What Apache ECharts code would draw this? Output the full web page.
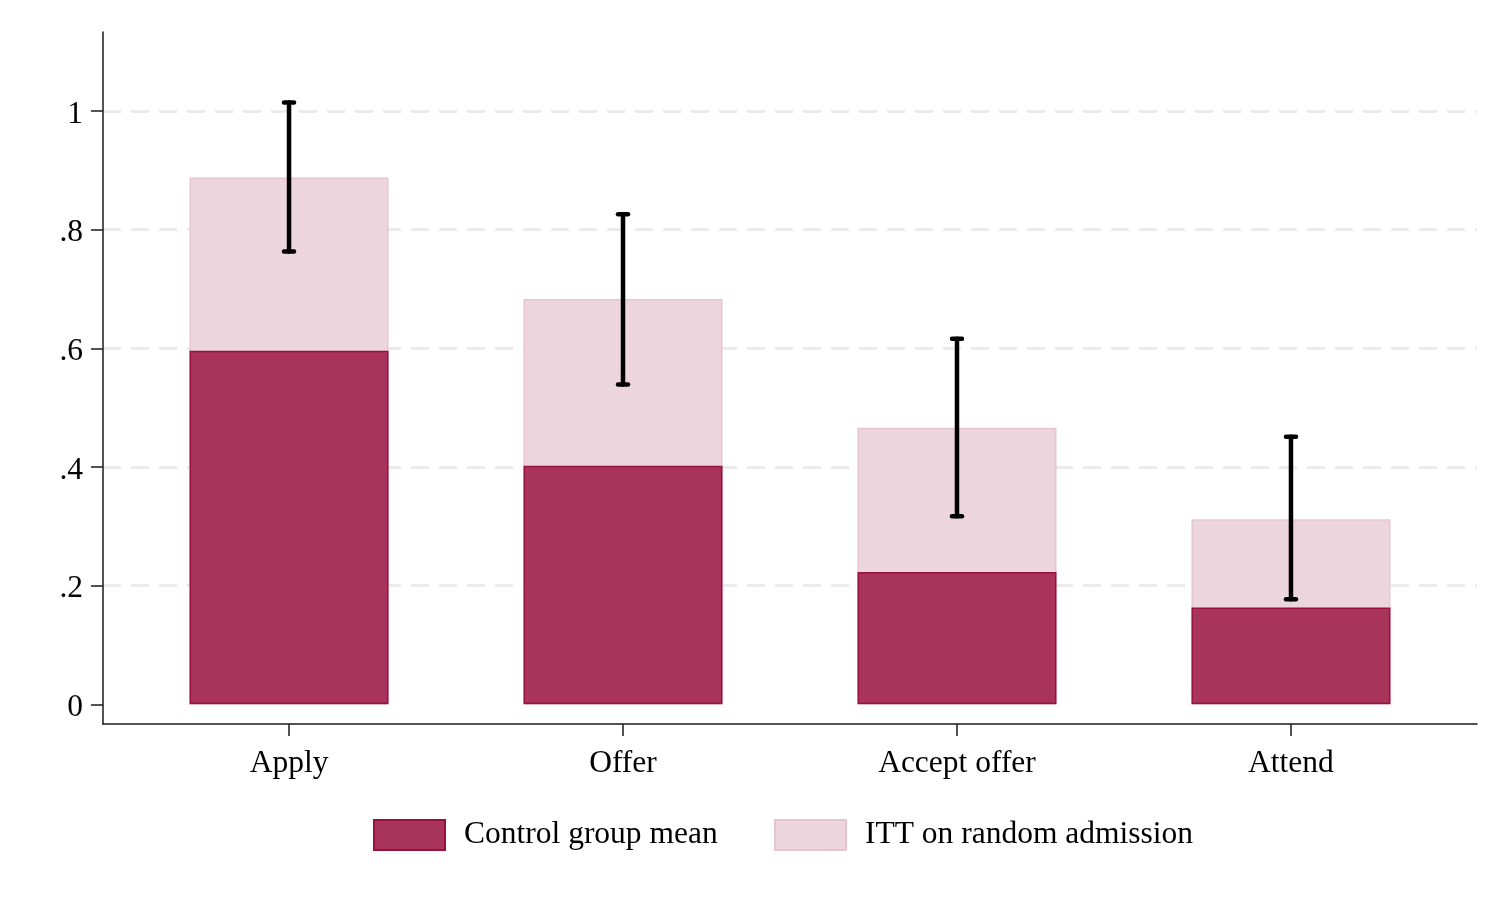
<!DOCTYPE html>
<html>
<head>
<meta charset="utf-8">
<script src="https://cdn.jsdelivr.net/npm/echarts@6/dist/echarts.min.js"></script>
<style>
  html, body { margin: 0; padding: 0; background: #fff; }
  #chart { width: 1510px; height: 906px; }
</style>
</head>
<body>
<div id="chart"></div>
<script>
const categories = ["Apply", "Offer", "Accept offer", "Attend"];
const controlMean = [0.596, 0.402, 0.223, 0.163];
const ittEffect = [0.292, 0.281, 0.243, 0.149];
const ciLower = [0.763, 0.539, 0.317, 0.177];
const ciUpper = [1.014, 0.826, 0.616, 0.451];
const yTicks = [0, 0.2, 0.4, 0.6, 0.8, 1];
const xTicks = [0, 1, 2, 3];

document.addEventListener("DOMContentLoaded", function () {
  const chart = echarts.init(document.getElementById("chart"));
  const font = "Liberation Serif";
  const fontSize = 31.5;

  const fmtY = function (v) {
    if (v === 0) return "0";
    if (v === 1) return "1";
    return String(Math.round(v * 10) / 10).replace(/^0/, "");
  };

  // the ITT bar sits on top of the control mean, so its top is the sum
  const ittTop = controlMean.map((v, i) => v + ittEffect[i]);

  const legendBase = {
    top: 819,
    padding: 0,
    icon: "rect",
    itemWidth: 71,
    itemHeight: 30,
    textStyle: { fontFamily: font, fontSize: fontSize, color: "#000", padding: [0, 0, 0, 14] },
  };

  const option = {
    animation: false,
    backgroundColor: "#fff",
    textStyle: { fontFamily: font, color: "#000" },
    grid: { left: 103, right: 33, top: 32, bottom: 182 },
    legend: [
      Object.assign({ left: 373, data: ["Control group mean"] }, legendBase),
      Object.assign({ left: 774, data: ["ITT on random admission"] }, legendBase),
    ],
    xAxis: {
      type: "value",
      min: -0.557,
      max: 3.557,
      splitLine: { show: false },
      axisLine: { show: true, onZero: false, lineStyle: { color: "#1a1a1a", width: 1.5 } },
      axisTick: { show: true, length: 12, customValues: xTicks, lineStyle: { color: "#1a1a1a", width: 1.5 } },
      axisLabel: {
        customValues: xTicks,
        margin: 24,
        fontFamily: font,
        fontSize: fontSize,
        color: "#000",
        formatter: function (v) {
          return categories[Math.round(v)] || "";
        },
      },
    },
    yAxis: {
      type: "value",
      min: -0.0332,
      max: 1.133,
      splitLine: { show: false },
      axisLine: { show: true, onZero: false, lineStyle: { color: "#1a1a1a", width: 1.5 } },
      axisTick: { show: true, length: 12, customValues: yTicks, lineStyle: { color: "#1a1a1a", width: 1.5 } },
      axisLabel: {
        customValues: yTicks,
        margin: 20,
        verticalAlign: "top",
        lineHeight: 7,
        fontFamily: font,
        fontSize: fontSize,
        color: "#000",
        formatter: fmtY,
      },
    },
    series: [
      {
        // dashed reference lines behind the bars
        type: "line",
        data: [],
        z: 0,
        silent: true,
        markLine: {
          z: 0,
          silent: true,
          symbol: "none",
          label: { show: false },
          lineStyle: { color: "#ebebeb", width: 3, type: [18, 10] },
          data: yTicks.filter((v) => v > 0).map((v) => ({ yAxis: v })),
        },
      },
      {
        name: "ITT on random admission",
        type: "bar",
        barWidth: 199,
        barGap: "-100%",
        z: 2,
        itemStyle: { color: "#edd5dd", borderColor: "#e6c5d1", borderWidth: 1.5 },
        data: ittTop.map((v, i) => [i, v]),
      },
      {
        name: "Control group mean",
        type: "bar",
        barWidth: 199,
        barGap: "-100%",
        z: 3,
        itemStyle: { color: "#a9345b", borderColor: "#990f40", borderWidth: 1.5 },
        data: controlMean.map((v, i) => [i, v]),
      },
      {
        // confidence interval whiskers
        type: "custom",
        z: 5,
        silent: true,
        encode: { x: 0, y: [1, 2] },
        data: ciLower.map((lo, i) => [i, lo, ciUpper[i]]),
        renderItem: function (params, api) {
          const x = api.value(0);
          const lo = api.coord([x, api.value(1)]);
          const hi = api.coord([x, api.value(2)]);
          const cap = 5;
          const style = { stroke: "#000", lineWidth: 4.5, lineCap: "round" };
          return {
            type: "group",
            children: [
              { type: "line", shape: { x1: lo[0], y1: lo[1], x2: hi[0], y2: hi[1] }, style: style },
              { type: "line", shape: { x1: hi[0] - cap, y1: hi[1], x2: hi[0] + cap, y2: hi[1] }, style: style },
              { type: "line", shape: { x1: lo[0] - cap, y1: lo[1], x2: lo[0] + cap, y2: lo[1] }, style: style },
            ],
          };
        },
      },
    ],
  };
  chart.setOption(option);
  window.addEventListener("resize", function () {
    chart.resize();
  });
});
</script>
</body>
</html>
